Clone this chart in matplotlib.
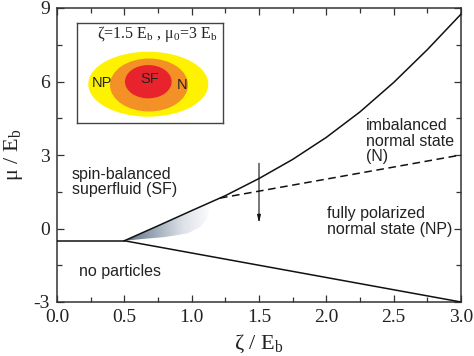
import numpy as np
import matplotlib
matplotlib.use("Agg")
import matplotlib.pyplot as plt
from matplotlib.patches import Ellipse, Polygon
from matplotlib.colors import LinearSegmentedColormap

plt.rcParams['mathtext.fontset'] = 'custom'
plt.rcParams['mathtext.rm'] = 'Liberation Serif'
plt.rcParams['mathtext.it'] = 'Liberation Serif:italic'
plt.rcParams['axes.unicode_minus'] = False

# ---- data ----
zeta_flat = [0.0, 0.5]
mu_flat = [-0.5, -0.5]
zeta_upper = [0.5, 0.75, 1.0, 1.25, 1.5, 1.75, 2.0, 2.25, 2.5, 2.75, 3.0]
mu_upper = [-0.5, 0.11, 0.73, 1.34, 2.04, 2.82, 3.72, 4.76, 5.96, 7.30, 8.75]
zeta_lower = [0.5, 3.0]
mu_lower = [-0.5, -3.0]
zeta_dash = [1.21, 3.0]
mu_dash = [1.24, 3.0]
arrow_zeta = 1.5
arrow_mu = [2.66, 0.22]
shade_zeta = [0.5, 1.13, 1.13, 1.11, 1.06, 0.97, 0.8, 0.65]
shade_mu = [-0.5, 1.05, 0.7, 0.35, 0.05, -0.2, -0.35, -0.42]
xticks = [0.0, 0.5, 1.0, 1.5, 2.0, 2.5, 3.0]
yticks = [-3, 0, 3, 6, 9]

W, H = 474, 356
fig = plt.figure(figsize=(W / 100, H / 100), dpi=100)
ax = fig.add_axes([57 / W, 1 - 302 / H, 404 / W, 294 / H])

serif = 'Liberation Serif'
sans = 'Liberation Sans'
lc = '#111111'

# shading gradient
cmap = LinearSegmentedColormap.from_list('g', ['#5d6e80', '#9aa8b6', '#dde2e8', '#ffffff'])
grad = np.linspace(0, 1, 256).reshape(1, -1)
im = ax.imshow(grad, extent=[0.5, 1.16, -0.6, 1.2], cmap=cmap, aspect='auto',
               origin='lower', zorder=1, interpolation='bilinear')
poly = Polygon(list(zip(shade_zeta, shade_mu)), closed=True, transform=ax.transData,
               facecolor='none', edgecolor='none')
ax.add_patch(poly)
im.set_clip_path(poly)

ax.plot(zeta_flat, mu_flat, color=lc, lw=1.1, zorder=3)
ax.plot(zeta_upper, mu_upper, color=lc, lw=1.1, zorder=3)
ax.plot(zeta_lower, mu_lower, color=lc, lw=1.1, zorder=3)
ax.plot(zeta_dash, mu_dash, color=lc, lw=1.1, ls=(0, (5, 3)), zorder=3)
ax.annotate('', xy=(arrow_zeta, arrow_mu[1]), xytext=(arrow_zeta, arrow_mu[0]),
            arrowprops=dict(arrowstyle='-|>,head_width=0.1,head_length=0.45',
                            color=lc, lw=0.8, shrinkA=0, shrinkB=0), zorder=4)

ax.set_xlim(0, 3)
ax.set_ylim(-3, 9)
ax.set_xticks(xticks)
ax.set_xticklabels([f'{v:.1f}' for v in xticks])
ax.set_yticks(yticks)
ax.set_yticklabels([str(v) for v in yticks])
ax.set_xticks(np.arange(0.25, 3, 0.5), minor=True)
ax.set_yticks(np.arange(-1.5, 9, 3), minor=True)
ax.tick_params(which='both', direction='in', top=True, right=True, color='#333333', width=0.9)
ax.tick_params(which='major', length=5, labelsize=14, pad=5)
ax.tick_params(which='minor', length=3.5)
for lab in ax.get_xticklabels() + ax.get_yticklabels():
    lab.set_fontfamily(serif)
    lab.set_color('#222222')
for s in ax.spines.values():
    s.set_linewidth(1.1)
    s.set_color('#333333')

ax.set_xlabel('ζ / E$_\\mathrm{b}$', fontsize=16, family=serif, labelpad=5, color='#222222')
ax.set_ylabel('μ / E$_\\mathrm{b}$', fontsize=16, family=serif, labelpad=6, color='#222222')

tc = '#222222'
ax.text(0.111, 1.9, 'spin-balanced\nsuperfluid (SF)', family=sans, fontsize=11.5,
        ha='left', va='center', color=tc, linespacing=1.05)
ax.text(0.163, -1.76, 'no particles', family=sans, fontsize=11.5, ha='left', va='center', color=tc)
ax.text(2.294, 3.57, 'imbalanced\nnormal state\n(N)', family=sans, fontsize=11.5,
        ha='left', va='center', color=tc, linespacing=1.05)
ax.text(2.007, 0.29, 'fully polarized\nnormal state (NP)', family=sans, fontsize=11.5,
        ha='left', va='center', color=tc, linespacing=1.05)

# ---- inset ----
iw, ih = 146.6, 100.0
ins = fig.add_axes([76.7 / W, 1 - 123.3 / H, iw / W, ih / H])
ins.set_xlim(0, iw)
ins.set_ylim(ih, 0)
ins.set_xticks([])
ins.set_yticks([])
for s in ins.spines.values():
    s.set_linewidth(1.0)
    s.set_color('#444444')
ins.add_patch(Ellipse((71.6, 60.9), 120, 65, facecolor='#fff200', edgecolor='none'))
ins.add_patch(Ellipse((72.3, 61.7), 78, 53, facecolor='#f39026', edgecolor='none'))
ins.add_patch(Ellipse((71.6, 58.4), 46.7, 33.3, facecolor='#e8232b', edgecolor='none'))
ins.text(25, 60, 'NP', family=sans, fontsize=10.5, ha='center', va='center', color='#222222')
ins.text(73.3, 56, 'SF', family=sans, fontsize=10.5, ha='center', va='center', color='#222222')
ins.text(105, 62, 'N', family=sans, fontsize=10.5, ha='center', va='center', color='#222222')
ins.text(80.8, 10.5, 'ζ=1.5 E$_\\mathrm{b}$ , μ$_\\mathrm{0}$=3 E$_\\mathrm{b}$', family=serif,
         fontsize=11.5, ha='center', va='center', color='#222222')

fig.savefig('out.png', dpi=100)
